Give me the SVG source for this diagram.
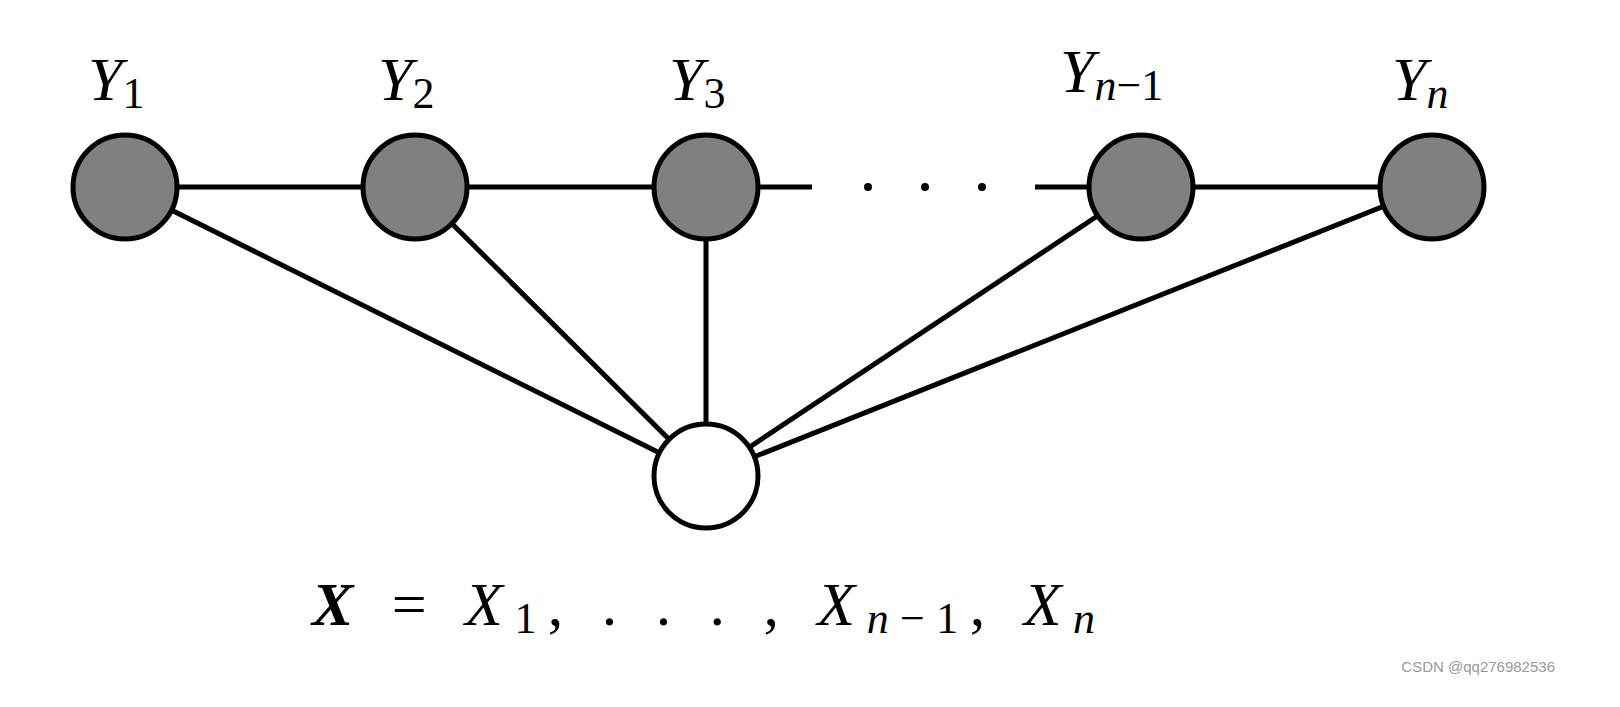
<svg xmlns="http://www.w3.org/2000/svg" width="1620" height="707" viewBox="0 0 1620 707">
<style>
.e{stroke:#000;stroke-width:5;fill:none}
.y{fill:#808080;stroke:#000;stroke-width:5}
.x{fill:#fff;stroke:#000;stroke-width:5}
.t{font-family:"Liberation Serif",serif;font-style:italic;font-size:62px;fill:#000}
.s{font-style:normal;font-size:44px}
.si{font-style:italic;font-size:44px}
.n{font-style:normal}
</style>
<rect width="1620" height="707" fill="#fff"/>
<g id="connectors">
<line class="e" x1="125" y1="187" x2="415" y2="187"/>
<line class="e" x1="415" y1="187" x2="706" y2="187"/>
<line class="e" x1="706" y1="187" x2="812" y2="187"/>
<line class="e" x1="1035" y1="187" x2="1141" y2="187"/>
<line class="e" x1="1141" y1="187" x2="1432" y2="187"/>
<line class="e" x1="125" y1="187" x2="706" y2="476"/>
<line class="e" x1="415" y1="187" x2="706" y2="476"/>
<line class="e" x1="706" y1="187" x2="706" y2="476"/>
<line class="e" x1="1141" y1="187" x2="706" y2="476"/>
<line class="e" x1="1432" y1="187" x2="706" y2="476"/>
<circle cx="868" cy="187" r="4"/><circle cx="925" cy="187" r="4"/><circle cx="982" cy="187" r="4"/>
</g>
<g id="Y1"><circle class="y" cx="125" cy="187" r="52"/><text class="t" x="88" y="100">Y<tspan class="s" dy="8">1</tspan></text></g>
<g id="Y2"><circle class="y" cx="415" cy="187" r="52"/><text class="t" x="378" y="100">Y<tspan class="s" dy="8">2</tspan></text></g>
<g id="Y3"><circle class="y" cx="706" cy="187" r="52"/><text class="t" x="669" y="100">Y<tspan class="s" dy="8">3</tspan></text></g>
<g id="Yn-1"><circle class="y" cx="1141" cy="187" r="52"/><text class="t" x="1060" y="92">Y<tspan class="si" dy="8">n</tspan><tspan class="s">−1</tspan></text></g>
<g id="Yn"><circle class="y" cx="1432" cy="187" r="52"/><text class="t" x="1392" y="100">Y<tspan class="si" dy="8">n</tspan></text></g>
<g id="X"><circle class="x" cx="706" cy="476" r="52"/>
<text class="t" x="312" y="625" font-size="74" textLength="783" lengthAdjust="spacing"><tspan font-weight="bold">X</tspan><tspan class="n"> = </tspan>X<tspan class="s" font-size="50" dy="8">1</tspan><tspan class="n" dy="-8">, . . . , </tspan>X<tspan class="si" font-size="50" dy="8">n</tspan><tspan class="s" font-size="50">−1</tspan><tspan class="n" dy="-8">, </tspan>X<tspan class="si" font-size="50" dy="8">n</tspan></text></g>
<text x="1555" y="672" text-anchor="end" font-family="Liberation Sans,sans-serif" font-size="15" fill="#999">CSDN @qq276982536</text>
</svg>
